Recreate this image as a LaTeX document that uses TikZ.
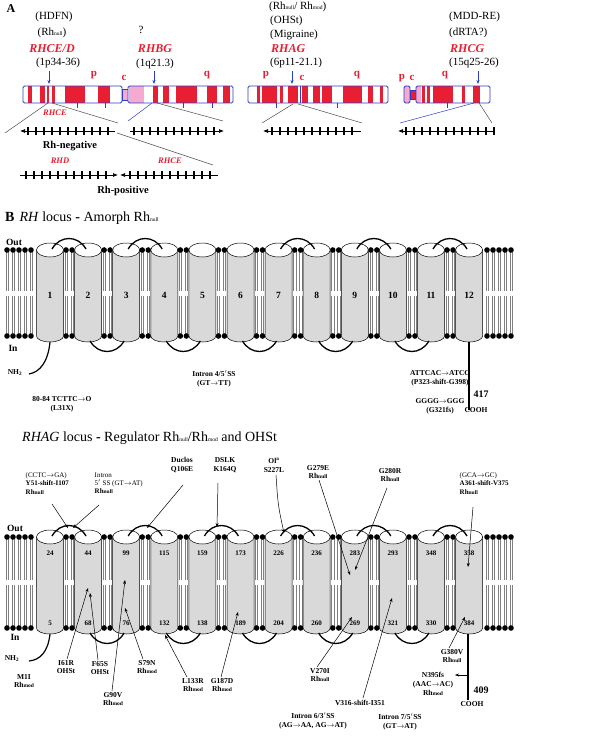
\documentclass[tikz,border=0pt]{standalone}
\usepackage{fontspec}
\setmainfont{Liberation Serif}
\usetikzlibrary{arrows.meta}
\definecolor{rhred}{RGB}{232,30,50}
\definecolor{rhblue}{RGB}{45,60,200}
\definecolor{rhpink}{RGB}{245,170,210}
\newcommand\sbs[1]{{\fontsize{5.5}{5.5}\selectfont #1}}
\newcommand\mylipid[3]{%
  \draw[lipidtail] (#1-1.1,-#2) -- (#1-1.1,-\ym+2.5) (#1+1.1,-#2) -- (#1+1.1,-\ym+2.5)
    (#1-1.1,-\ym-2.5) -- (#1-1.1,-#3) (#1+1.1,-\ym-2.5) -- (#1+1.1,-#3);
  \fill (#1,-#2) circle (2.8) (#1,-#3) circle (2.8);}
\newcommand\drawmem[3]{%
  \pgfmathsetmacro\ym{(#1+#2)/2}
  \foreach \hx in {7,13,19,25,31,487,493,499,505,511} {\mylipid{\hx}{#1}{#2}}
  \foreach \i in {0,...,10} {\pgfmathsetmacro\gx{50+38.1*\i+19.05}
     \mylipid{\gx-3}{#1}{#2}\mylipid{\gx+3}{#1}{#2}}
  \foreach \i in {0,...,11} {\pgfmathsetmacro\cx{50+38.1*\i}
     \draw[cyl] (\cx-13.5,-#1) -- (\cx-13.5,-#2) arc[start angle=180,end angle=360,x radius=13.5,y radius=6] -- (\cx+13.5,-#1) -- cycle;
     \draw[fill=white,line width=0.5] (\cx,-#1) ellipse [x radius=13.5,y radius=7];}
  \foreach \i in {#3} {\pgfmathsetmacro\cx{50+38.1*\i}
     \draw[looparc] (\cx+2,-#1+1) .. controls (\cx+10,-#1+15) and (\cx+28,-#1+15) .. (\cx+36,-#1+1);}
  \foreach \i in {1,3,5,7,9} {\pgfmathsetmacro\cx{50+38.1*\i}
     \draw[looparc] (\cx+2,-#2-5) .. controls (\cx+10,-#2-19) and (\cx+28,-#2-19) .. (\cx+36,-#2-5);}
}
\begin{document}
\begin{tikzpicture}[x=1pt,y=1pt,
  lipidtail/.style={gray,line width=0.35},
  cyl/.style={fill=gray!30,draw=black,line width=0.5},
  looparc/.style={line width=1.3},
  chrom/.style={draw=rhblue,line width=0.9,rounded corners=1.5},
  lbl/.style={font=\fontsize{11}{12}\selectfont,inner sep=0},
  gname/.style={font=\fontsize{12}{13}\selectfont\bfseries\itshape,text=rhred,inner sep=0},
  pcq/.style={font=\fontsize{11}{12}\selectfont\bfseries,text=rhred,inner sep=0},
  mut/.style={font=\fontsize{7.5}{8.8}\selectfont\bfseries,inner sep=0.5,align=center},
  mutl/.style={font=\fontsize{7}{8.3}\selectfont,inner sep=0.5,align=left,anchor=north west},
  ann/.style={-{Stealth[length=4pt,width=3pt]},line width=0.5},
  bluearr/.style={rhblue,-{Stealth[length=4pt,width=3pt]},line width=0.7},
  tick/.style={line width=1.1},
  num/.style={font=\fontsize{7}{7}\selectfont\bfseries,inner sep=0}]
\useasboundingbox (0,0) rectangle (609,-739);
% ===== Panel A =====
\node[font=\fontsize{12}{12}\selectfont\bfseries,inner sep=0] (A) at (11,-9) {A};
\node[lbl] (t1a) at (54,-17) {(HDFN)};
\node[lbl] (t1b) at (52,-33) {(Rh\sbs{null})};
\node[gname] (t1c) at (52,-49) {RHCE/D};
\node[lbl] (t1d) at (58,-63) {(1p34-36)};
\node[lbl] (t2a) at (141,-30) {?};
\node[gname] (t2b) at (155,-49) {RHBG};
\node[lbl] (t2c) at (155,-64) {(1q21.3)};
\node[lbl,anchor=west] (t3a) at (269,-7) {(Rh\sbs{null}/ Rh\sbs{mod})};
\node[lbl,anchor=west] (t3b) at (270,-21) {(OHSt)};
\node[lbl,anchor=west] (t3c) at (270,-35) {(Migraine)};
\node[gname,anchor=west] (t3d) at (271,-49) {RHAG};
\node[lbl,anchor=west] (t3e) at (270,-63) {(6p11-21.1)};
\node[lbl,anchor=west] (t4a) at (449,-17) {(MDD-RE)};
\node[lbl,anchor=west] (t4b) at (449,-33) {(dRTA?)};
\node[gname,anchor=west] (t4c) at (450,-49) {RHCG};
\node[lbl,anchor=west] (t4d) at (449,-63) {(15q25-26)};
\node[pcq] (p1) at (94,-75) {p};
\node[pcq] (c1) at (124,-78) {c};
\node[pcq] (q1) at (207,-75) {q};
\node[pcq] (p6) at (266,-75) {p};
\node[pcq] (c6) at (302,-78) {c};
\node[pcq] (q6) at (357,-75) {q};
\node[pcq] (p15) at (402,-78) {p};
\node[pcq] (c15) at (412,-78) {c};
\node[pcq] (q15) at (445,-75) {q};
% chromosome 1
\fill[white] (23,-86) rectangle (122,-103);
\foreach \a/\b in {28/32,40/45,47/49,52/55,65/85,98/110} \fill[rhred] (\a,-86) rectangle (\b,-103);
\draw[chrom] (23,-86) rectangle (122,-103);
\fill[rhpink] (122,-89) rectangle (128,-100);
\draw[rhblue,line width=0.8] (122,-89) rectangle (128,-100);
\fill[white] (128,-86) rectangle (233,-103);
\fill[rhpink] (129,-86) rectangle (144,-103);
\foreach \a/\b in {153/158,163/169,176/197,207/217,223/230} \fill[rhred] (\a,-86) rectangle (\b,-103);
\draw[chrom] (128,-86) rectangle (233,-103);
% chromosome 6
\fill[white] (248,-86) rectangle (388,-103);
\foreach \a/\b in {257/260,262/277,280/283,288/298,302/308,313/320,322/332,343/362,368/373,380/383} \fill[rhred] (\a,-86) rectangle (\b,-103);
\draw[chrom] (248,-86) rectangle (388,-103);
\draw[rhblue,line width=0.8] (300,-86) -- (300,-103);
% chromosome 15
\fill[rhpink] (404,-86) rectangle (410,-103);
\draw[chrom] (404,-86) rectangle (410,-103);
\fill[rhred] (410,-90) rectangle (416,-99);
\draw[rhblue,line width=0.8] (410,-90) rectangle (416,-99);
\fill[white] (416,-86) rectangle (490,-103);
\fill[rhpink] (416,-86) rectangle (421,-103);
\foreach \a/\b in {422/425,427/430,433/453,462/465,473/480} \fill[rhred] (\a,-86) rectangle (\b,-103);
\draw[chrom] (416,-86) rectangle (490,-103);
% locus arrows
\coordinate (l1) at (49,-84); \coordinate (l2) at (154,-84);
\coordinate (l6) at (292,-84); \coordinate (l15) at (478,-84);
\draw[bluearr] (49,-71) -- (l1);
\draw[bluearr] (154,-71) -- (l2);
\draw[bluearr] (292,-71) -- (l6);
\draw[bluearr] (478,-71) -- (l15);
\foreach \x in {77,105,183,212,276,337,447} \draw[rhblue,line width=0.8] (\x,-103) -- (\x,-108);
% zoom lines
\draw[gray!60!black,line width=0.5] (48,-103) -- (5,-133) (52,-103) -- (118,-123);
\draw[rhblue,line width=0.5] (152,-103) -- (128,-121);
\draw[gray!60!black,line width=0.5] (157,-103) -- (223,-121);
\draw[gray!60!black,line width=0.5] (293,-104) -- (262,-123) (298,-104) -- (362,-123);
\draw[rhblue,line width=0.5] (474,-103) -- (400,-123);
\draw[gray!60!black,line width=0.5] (479,-103) -- (492,-123);
\draw[gray!60!black,line width=0.5] (117,-133) -- (213,-165);
% gene rows
\node[font=\fontsize{8.5}{9}\selectfont\bfseries\itshape,text=rhred,inner sep=0] (g1) at (55,-113) {RHCE};
\draw[line width=0.7,{Latex[length=5pt,width=4pt]}-] (20,-131) -- (115,-131);
\foreach \x in {28,36,...,108} \draw[tick] (\x,-127) -- (\x,-135);
\draw[line width=0.7,-{Latex[length=5pt,width=4pt]}] (130,-131) -- (224,-131);
\foreach \x in {134,142,...,214} \draw[tick] (\x,-127) -- (\x,-135);
\node[font=\fontsize{10.5}{11}\selectfont\bfseries,inner sep=0] (rhneg) at (70,-146) {Rh-negative};
\node[font=\fontsize{8.5}{9}\selectfont\bfseries\itshape,text=rhred,inner sep=0] (g2) at (60,-161) {RHD};
\node[font=\fontsize{8.5}{9}\selectfont\bfseries\itshape,text=rhred,inner sep=0] (g3) at (170,-161) {RHCE};
\draw[line width=0.7,-{Latex[length=5pt,width=4pt]}] (20,-175) -- (118,-175);
\foreach \x in {26,34,...,106} \draw[tick] (\x,-171) -- (\x,-179);
\draw[line width=0.7,{Latex[length=5pt,width=4pt]}-] (120,-175) -- (218,-175);
\foreach \x in {130,138,...,210} \draw[tick] (\x,-171) -- (\x,-179);
\node[font=\fontsize{10.5}{11}\selectfont\bfseries,inner sep=0] (rhpos) at (123,-191) {Rh-positive};
\draw[line width=0.7,{Latex[length=5pt,width=4pt]}-] (263,-131) -- (361,-131);
\foreach \x in {272,280,...,352} \draw[tick] (\x,-127) -- (\x,-135);
\draw[line width=0.7,{Latex[length=5pt,width=4pt]}-] (398,-131) -- (494,-131);
\foreach \x in {406,414,...,494} \draw[tick] (\x,-127) -- (\x,-135);
% ===== Panel B : RH =====
\node[anchor=west,font=\fontsize{14}{15}\selectfont,inner sep=0] (B) at (5,-218) {\textbf{B}\hspace{5pt}\textit{RH} locus \textbf{-} Amorph Rh\sbs{null}};
\drawmem{250}{336}{0,2,6,8,10}
\foreach \n [count=\k from 0] in {1,...,12} {\pgfmathsetmacro\cx{50+38.1*\k}
  \node[font=\fontsize{9.5}{9.5}\selectfont\bfseries,inner sep=0] (m1n\n) at (\cx,-295) {\n};}
\node[font=\fontsize{9.5}{9.5}\selectfont\bfseries,inner sep=0] (out1) at (14,-242) {Out};
\node[font=\fontsize{9.5}{9.5}\selectfont\bfseries,inner sep=0] (in1) at (13,-348) {In};
\node[font=\fontsize{7.5}{8}\selectfont\bfseries,inner sep=0] (nh1) at (15,-373) {NH\textsubscript{2}};
\draw[line width=1.2] (50,-342) .. controls (48,-362) and (40,-372) .. (29,-374);
\coordinate (cooh1top) at (469,-342);
\draw[line width=1.2] (cooh1top) -- (469,-410);
\node[font=\fontsize{10}{10}\selectfont\bfseries,inner sep=0] (n417) at (481,-394) {417};
\node[mut] (cooh1) at (476,-410) {COOH};
\node[mut] (i45) at (214,-379) {Intron 4/5$'$SS\\(GT$\rightarrow$TT)};
\node[mut] (l31) at (62,-404) {80-84 TCTTC$\rightarrow$O\\(L31X)};
\node[mut] (p323) at (440,-378) {ATTCAC$\rightarrow$ATCC\\(P323-shift-G398)};
\node[mut] (g321) at (440,-406) {GGGG$\rightarrow$GGG\\(G321fs)};
% ===== Panel B : RHAG =====
\node[anchor=west,font=\fontsize{14}{15}\selectfont,inner sep=0] (Bt) at (22,-438) {\textit{RHAG} locus \textbf{-} Regulator Rh\sbs{null}/Rh\sbs{mod} and OHSt};
\drawmem{537}{628}{0,2,4,6,8,10}
\foreach \n [count=\k from 0] in {24,44,99,115,159,173,226,236,283,293,348,358} {\pgfmathsetmacro\cx{50+38.1*\k}
  \node[num] (tn\n) at (\cx,-553) {\n};}
\foreach \n [count=\k from 0] in {5,68,76,132,138,189,204,260,269,321,330,384} {\pgfmathsetmacro\cx{50+38.1*\k}
  \node[num] (bn\n) at (\cx,-623) {\n};}
\node[font=\fontsize{9.5}{9.5}\selectfont\bfseries,inner sep=0] (out2) at (15,-528) {Out};
\node[font=\fontsize{9.5}{9.5}\selectfont\bfseries,inner sep=0] (in2) at (15,-637) {In};
\draw[line width=1.2] (50,-634) .. controls (48,-652) and (40,-660) .. (29,-661);
\node[font=\fontsize{7.5}{8}\selectfont\bfseries,inner sep=0] (nh2) at (12,-659) {NH\textsubscript{2}};
\node[mut] (m1i) at (24,-681) {M1I\\Rh\sbs{mod}};
\draw[line width=1.2] (468,-634) -- (468,-700);
\node[font=\fontsize{10}{10}\selectfont\bfseries,inner sep=0] (n409) at (481,-690) {409};
\node[mut] (cooh2) at (472,-704) {COOH};
% annotations
\node[mutl] (y51) at (25,-472) {(CCTC$\rightarrow$GA)\\\textbf{Y51-shift-I107}\\\textbf{Rh\sbs{null}}};
\draw[ann] (52,-504) -- (68,-528);
\node[mutl] (i5) at (94,-472) {Intron\\5$'$ SS (GT$\rightarrow$AT)\\\textbf{Rh\sbs{null}}};
\draw[ann] (99,-505) -- (73,-528);
\node[mut] (duc) at (182,-465) {Duclos\\Q106E};
\draw[ann] (183,-485) -- (147,-528);
\node[mut] (dslk) at (225,-465) {DSLK\\K164Q};
\draw[ann] (218,-483) -- (217,-527);
\node[mut] (ola) at (274,-465) {Ol\textsuperscript{a}\\S227L};
\draw[ann] (276,-475) .. controls (278,-505) .. (284,-533);
\node[mut] (g279) at (318,-472) {G279E\\Rh\sbs{null}};
\draw[ann] (319,-480) -- (350,-575);
\node[mut] (g280) at (390,-475) {G280R\\Rh\sbs{null}};
\draw[ann] (387,-488) -- (355,-570);
\node[mutl] (a361) at (459,-472) {(GCA$\rightarrow$GC)\\\textbf{A361-shift-V375}\\\textbf{Rh\sbs{null}}};
\draw[ann] (473,-507) -- (468,-567);
\node[mut] (i61) at (66,-667) {I61R\\OHSt};
\draw[ann] (67,-659) -- (88,-588);
\node[mut] (f65) at (100,-668) {F65S\\OHSt};
\draw[ann] (98,-660) -- (90,-593);
\node[mut] (g90) at (113,-699) {G90V\\Rh\sbs{mod}};
\draw[ann] (112,-691) -- (125,-580);
\node[mut] (s79) at (147,-667) {S79N\\Rh\sbs{mod}};
\draw[ann] (143,-659) -- (125,-608);
\node[mut] (l133) at (193,-685) {L133R\\Rh\sbs{mod}};
\draw[ann] (187,-677) -- (165,-635);
\node[mut] (g187) at (222,-685) {G187D\\Rh\sbs{mod}};
\draw[ann] (221,-677) -- (238,-612);
\node[mut] (v270) at (320,-675) {V270I\\Rh\sbs{null}};
\draw[ann] (317,-667) -- (352,-617);
\node[mut] (v316) at (360,-703) {V316-shift-I351};
\draw[ann] (363,-698) -- (392,-598);
\node[mut] (i63) at (313,-721) {Intron 6/3$'$SS\\(AG$\rightarrow$AA, AG$\rightarrow$AT)};
\node[mut] (i75) at (400,-722) {Intron 7/5$'$SS\\(GT$\rightarrow$AT)};
\node[mut] (g380) at (452,-656) {G380V\\Rh\sbs{null}};
\draw[ann] (449,-648) -- (465,-617);
\node[mut] (n395) at (433,-684) {N395fs\\(AAC$\rightarrow$AC)\\Rh\sbs{mod}};
\draw[ann] (468,-675) -- (455,-675);
\end{tikzpicture}
\end{document}
